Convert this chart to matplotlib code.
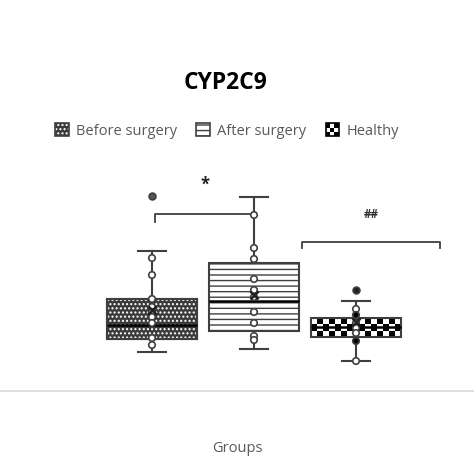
import numpy as np
import matplotlib.pyplot as plt
from matplotlib.patches import Patch, Rectangle, PathPatch
from matplotlib.legend_handler import HandlerBase

plt.rcParams['font.family'] = ['Open Sans', 'DejaVu Sans']
plt.rcParams['hatch.linewidth'] = 1.0

# box statistics (arbitrary units, axis line = 0)
groups = ['Before surgery', 'After surgery', 'Healthy']
q1 = [5.2, 6.0, 5.4]
med = [6.6, 9.0, 6.4]
q3 = [9.2, 12.8, 7.3]
whislo = [3.9, 4.2, 3.0]
whishi = [14.0, 19.4, 9.0]
means = [8.1, 9.6, 6.9]
fliers = [[19.5], [], [10.1]]

# individual values shown on the centre line
points = [
    [13.3, 11.6, 9.2, 8.4, 7.9, 7.4, 6.8, 5.3, 4.6],
    [17.6, 14.3, 13.2, 11.2, 10.1, 9.4, 7.9, 6.8, 5.5, 5.1],
    [8.2, 7.6, 6.8, 6.3, 5.8, 5.0, 3.0],
]
filled = [
    [0, 0, 0, 0, 0, 0, 0, 0, 0],
    [0, 0, 0, 0, 0, 0, 0, 0, 0, 0],
    [0, 1, 0, 0, 0, 1, 0],
]

# significance marks
brk1_x = [1.03, 2.0]
brk1_y = [16.9, 17.7]
brk2_x = [2.47, 3.82]
brk2_y = [14.3, 14.9]

dark = '#3f3f3f'
dotface = '#3a3a3a'

fig = plt.figure(figsize=(4.74, 4.74), dpi=100)
ax = fig.add_axes([0, 83 / 474, 1, 221 / 474])

stats = []
for i in range(3):
    stats.append(dict(label=groups[i], q1=q1[i], med=med[i], q3=q3[i],
                      whislo=whislo[i], whishi=whishi[i], mean=means[i],
                      fliers=fliers[i]))

bp = ax.bxp(stats, positions=[1, 2, 3], widths=0.88, capwidths=0.28,
            patch_artist=True, showmeans=True, showfliers=False,
            boxprops=dict(facecolor='white', edgecolor=dark, linewidth=1.5),
            whiskerprops=dict(color=dark, linewidth=1.5),
            capprops=dict(color=dark, linewidth=1.5),
            medianprops=dict(color='black', linewidth=1.8, zorder=3),
            meanprops=dict(marker='x', markeredgecolor='#222222', markersize=6,
                           markeredgewidth=1.8, zorder=5))

# before surgery: dark with white dots
b1 = bp['boxes'][0]
b1.set_facecolor(dotface)
dots = PathPatch(b1.get_path(), transform=b1.get_transform(), facecolor='none',
                 edgecolor='white', lw=0, hatch='....', zorder=2.2)
ax.add_patch(dots)
outline1 = PathPatch(b1.get_path(), transform=b1.get_transform(), facecolor='none',
                     edgecolor=dark, lw=1.5, zorder=2.3)
ax.add_patch(outline1)

bp['boxes'][1].set_hatch('---')

# checkerboard for healthy
b3 = bp['boxes'][2]
cols, rows = 15, 3
board = (np.indices((rows, cols)).sum(axis=0) % 2).astype(float)
im = ax.imshow(board, cmap='gray_r', vmin=0, vmax=1, interpolation='nearest',
               extent=[3 - 0.44, 3 + 0.44, q1[2], q3[2]], aspect='auto', zorder=2.5)
im.set_clip_path(b3)
b3.set_zorder(2.6)
b3.set_facecolor('none')

for i in range(3):
    fc = ['black' if f else 'white' for f in filled[i]]
    ax.scatter([i + 1] * len(points[i]), points[i], s=22, c=fc,
               edgecolors=dark, linewidths=1.2, zorder=4)
    if fliers[i]:
        ax.scatter([i + 1] * len(fliers[i]), fliers[i], s=24,
                   c='#555555' if i == 0 else '#222222',
                   edgecolors=dark, linewidths=1.2, zorder=4)

ax.plot([brk1_x[0], brk1_x[0], brk1_x[1]], [brk1_y[0], brk1_y[1], brk1_y[1]],
        color=dark, lw=1.3, zorder=3)
ax.plot([brk2_x[0], brk2_x[0], brk2_x[1], brk2_x[1]],
        [brk2_y[0], brk2_y[1], brk2_y[1], brk2_y[0]], color=dark, lw=1.3)
ax.text(1.52, 20.6, '*', ha='center', va='center', fontsize=12,
        fontweight='bold', color='#222222')
ax.text(3.15, 17.6, '##', ha='center', va='center', fontsize=8.5,
        fontweight='bold', color='#333333')

ax.set_xlim(-0.49, 4.157)
ax.set_ylim(0, 22.1)
ax.set_xticks([])
ax.set_yticks([])
for s in ['left', 'right', 'top']:
    ax.spines[s].set_visible(False)
ax.spines['bottom'].set_color('#d9d9d9')
ax.spines['bottom'].set_linewidth(1.2)


class CheckerHandler(HandlerBase):
    def create_artists(self, legend, orig_handle, xdescent, ydescent,
                       width, height, fontsize, trans):
        arts = []
        n = 3
        s = height / n
        x0 = -xdescent + (width - height) / 2
        for r in range(n):
            for c in range(n):
                col = 'black' if (r + c) % 2 == 0 else 'white'
                arts.append(Rectangle((x0 + c * s, -ydescent + r * s), s, s,
                                      facecolor=col, edgecolor='none', transform=trans))
        arts.append(Rectangle((x0, -ydescent), height, height, facecolor='none',
                              edgecolor='black', lw=1.2, transform=trans))
        return arts


h1a = Patch(facecolor=dotface, edgecolor='white', hatch='....', lw=0)
h1b = Patch(facecolor='none', edgecolor=dark, lw=1.2)
h2 = Patch(facecolor='white', edgecolor=dark, hatch='---', lw=1.2)
h3 = Patch(facecolor='white', edgecolor='black')
fig.legend([(h1a, h1b), h2, h3], groups, loc='center',
           bbox_to_anchor=(0.479, 1 - 131 / 474),
           ncol=3, frameon=False, fontsize=10.5, handlelength=0.95, handleheight=0.95,
           handletextpad=0.5, columnspacing=1.3, labelcolor='#595959',
           handler_map={h3: CheckerHandler()})

fig.text(0.475, 1 - 83 / 474, 'CYP2C9', ha='center', va='center', fontsize=16.5,
         fontweight='bold', color='black')
fig.text(0.5, 1 - 449 / 474, 'Groups', ha='center', va='center', fontsize=10.5,
         color='#595959')

fig.savefig('out.png', dpi=100, facecolor='white')
